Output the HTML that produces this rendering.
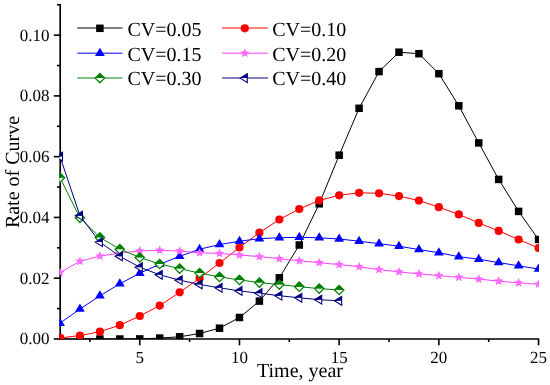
<!DOCTYPE html><html><head><meta charset="utf-8"><title>Rate of Curve</title>
<style>html,body{margin:0;padding:0;background:#fff;}svg{display:block;}text{text-rendering:geometricPrecision;font-family:"Liberation Serif","Times New Roman",serif;fill:#000;}</style></head><body>
<svg width="550" height="385" viewBox="0 0 550 385">
<rect width="550" height="385" fill="#fff"/>
<defs><clipPath id="pa"><rect x="59.4" y="0" width="479.6" height="339.2"/></clipPath></defs>
<path d="M60.2 3.9V339.8" stroke="#000" stroke-width="1.7" fill="none"/>
<path d="M59.1 339H539.2" stroke="#000" stroke-width="1.6" fill="none"/>
<path d="M53.8 338.95H60" stroke="#000" stroke-width="1.6"/>
<path d="M57 308.57H60" stroke="#000" stroke-width="1.6"/>
<path d="M53.8 278.19H60" stroke="#000" stroke-width="1.6"/>
<path d="M57 247.81H60" stroke="#000" stroke-width="1.6"/>
<path d="M53.8 217.43H60" stroke="#000" stroke-width="1.6"/>
<path d="M57 187.05H60" stroke="#000" stroke-width="1.6"/>
<path d="M53.8 156.67H60" stroke="#000" stroke-width="1.6"/>
<path d="M57 126.29H60" stroke="#000" stroke-width="1.6"/>
<path d="M53.8 95.91H60" stroke="#000" stroke-width="1.6"/>
<path d="M57 65.53H60" stroke="#000" stroke-width="1.6"/>
<path d="M53.8 35.15H60" stroke="#000" stroke-width="1.6"/>
<path d="M57 4.77H60" stroke="#000" stroke-width="1.6"/>
<path d="M89.91 339V342" stroke="#000" stroke-width="1.6"/>
<path d="M139.76 339V345.3" stroke="#000" stroke-width="1.6"/>
<path d="M189.61 339V342" stroke="#000" stroke-width="1.6"/>
<path d="M239.46 339V345.3" stroke="#000" stroke-width="1.6"/>
<path d="M289.31 339V342" stroke="#000" stroke-width="1.6"/>
<path d="M339.16 339V345.3" stroke="#000" stroke-width="1.6"/>
<path d="M389.01 339V342" stroke="#000" stroke-width="1.6"/>
<path d="M438.86 339V345.3" stroke="#000" stroke-width="1.6"/>
<path d="M488.71 339V342" stroke="#000" stroke-width="1.6"/>
<path d="M538.56 339V345.3" stroke="#000" stroke-width="1.6"/>
<text x="49.5" y="344.35" font-size="17" text-anchor="end">0.00</text>
<text x="49.5" y="283.59" font-size="17" text-anchor="end">0.02</text>
<text x="49.5" y="222.83" font-size="17" text-anchor="end">0.04</text>
<text x="49.5" y="162.07" font-size="17" text-anchor="end">0.06</text>
<text x="49.5" y="101.31" font-size="17" text-anchor="end">0.08</text>
<text x="49.5" y="40.55" font-size="17" text-anchor="end">0.10</text>
<text x="139.76" y="363" font-size="17" text-anchor="middle">5</text>
<text x="239.46" y="363" font-size="17" text-anchor="middle">10</text>
<text x="339.16" y="363" font-size="17" text-anchor="middle">15</text>
<text x="438.86" y="363" font-size="17" text-anchor="middle">20</text>
<text x="538.56" y="363" font-size="17" text-anchor="middle">25</text>
<text x="300" y="376.7" font-size="20" text-anchor="middle">Time, year</text>
<text transform="translate(19,172) rotate(-90)" font-size="20" text-anchor="middle">Rate of Curve</text>
<g clip-path="url(#pa)">
<polyline fill="none" stroke="#000" stroke-width="1" points="60,339 79.94,339 99.88,339 119.82,339 139.76,338.9 159.7,338.1 179.64,336.8 199.58,333.5 219.52,328.2 239.46,317.5 259.4,301.1 279.34,277.8 299.28,245 319.22,203.8 339.16,155.2 359.1,108.3 379.04,71.6 398.98,52.2 418.92,53.7 438.86,73.7 458.8,105.8 478.74,142.9 498.68,179.4 518.62,211.4 538.56,239.5"/>
<polyline fill="none" stroke="#ff0000" stroke-width="1" points="60,337.9 79.94,335.6 99.88,331.7 119.82,325.2 139.76,316 159.7,305.6 179.64,292.3 199.58,278.2 219.52,263 239.46,247.5 259.4,232.7 279.34,219.5 299.28,209 319.22,200.4 339.16,195.3 359.1,192.8 379.04,193.3 398.98,196.1 418.92,200.6 438.86,207.2 458.8,214.4 478.74,222.9 498.68,230.9 518.62,239.5 538.56,248"/>
<polyline fill="none" stroke="#0000ff" stroke-width="1" points="60,323.2 79.94,309.1 99.88,295.8 119.82,283.8 139.76,273.2 159.7,264.2 179.64,256.4 199.58,249.2 219.52,244.6 239.46,241.2 259.4,238.7 279.34,237.7 299.28,237.3 319.22,237.8 339.16,239 359.1,241.2 379.04,243.7 398.98,246.2 418.92,249.6 438.86,252.7 458.8,256.7 478.74,259.2 498.68,262.6 518.62,265.8 538.56,269"/>
<polyline fill="none" stroke="#ff3cff" stroke-width="1" points="60,272.5 79.94,261.3 99.88,256.1 119.82,253.1 139.76,250.9 159.7,250.3 179.64,251.1 199.58,252.8 219.52,253.4 239.46,255 259.4,256.6 279.34,258.8 299.28,260.8 319.22,262.7 339.16,264.6 359.1,266.8 379.04,269.6 398.98,271.9 418.92,273.9 438.86,275.6 458.8,277.3 478.74,279.1 498.68,281.1 518.62,282.9 538.56,284.2"/>
<polyline fill="none" stroke="#008000" stroke-width="1" points="60,177.7 79.94,217.8 99.88,237.4 119.82,249.2 139.76,257.5 159.7,264 179.64,268.6 199.58,273.1 219.52,276.9 239.46,279.9 259.4,282.6 279.34,284.6 299.28,286.7 319.22,288.6 339.16,290"/>
<polyline fill="none" stroke="#000080" stroke-width="1" points="60,156.6 79.94,215.7 99.88,242.1 119.82,256.3 139.76,267.2 159.7,274.8 179.64,280.2 199.58,284.4 219.52,287.8 239.46,290.9 259.4,293.2 279.34,295.7 299.28,297.8 319.22,299.7 339.16,300.8"/>
<rect x="56.25" y="335.25" width="7.5" height="7.5" fill="#000000"/>
<rect x="76.19" y="335.25" width="7.5" height="7.5" fill="#000000"/>
<rect x="96.13" y="335.25" width="7.5" height="7.5" fill="#000000"/>
<rect x="116.07" y="335.25" width="7.5" height="7.5" fill="#000000"/>
<rect x="136.01" y="335.15" width="7.5" height="7.5" fill="#000000"/>
<rect x="155.95" y="334.35" width="7.5" height="7.5" fill="#000000"/>
<rect x="175.89" y="333.05" width="7.5" height="7.5" fill="#000000"/>
<rect x="195.83" y="329.75" width="7.5" height="7.5" fill="#000000"/>
<rect x="215.77" y="324.45" width="7.5" height="7.5" fill="#000000"/>
<rect x="235.71" y="313.75" width="7.5" height="7.5" fill="#000000"/>
<rect x="255.65" y="297.35" width="7.5" height="7.5" fill="#000000"/>
<rect x="275.59" y="274.05" width="7.5" height="7.5" fill="#000000"/>
<rect x="295.53" y="241.25" width="7.5" height="7.5" fill="#000000"/>
<rect x="315.47" y="200.05" width="7.5" height="7.5" fill="#000000"/>
<rect x="335.41" y="151.45" width="7.5" height="7.5" fill="#000000"/>
<rect x="355.35" y="104.55" width="7.5" height="7.5" fill="#000000"/>
<rect x="375.29" y="67.85" width="7.5" height="7.5" fill="#000000"/>
<rect x="395.23" y="48.45" width="7.5" height="7.5" fill="#000000"/>
<rect x="415.17" y="49.95" width="7.5" height="7.5" fill="#000000"/>
<rect x="435.11" y="69.95" width="7.5" height="7.5" fill="#000000"/>
<rect x="455.05" y="102.05" width="7.5" height="7.5" fill="#000000"/>
<rect x="474.99" y="139.15" width="7.5" height="7.5" fill="#000000"/>
<rect x="494.93" y="175.65" width="7.5" height="7.5" fill="#000000"/>
<rect x="514.87" y="207.65" width="7.5" height="7.5" fill="#000000"/>
<rect x="534.81" y="235.75" width="7.5" height="7.5" fill="#000000"/>
<circle cx="60" cy="337.9" r="4.1" fill="#ff0000"/>
<circle cx="79.94" cy="335.6" r="4.1" fill="#ff0000"/>
<circle cx="99.88" cy="331.7" r="4.1" fill="#ff0000"/>
<circle cx="119.82" cy="325.2" r="4.1" fill="#ff0000"/>
<circle cx="139.76" cy="316" r="4.1" fill="#ff0000"/>
<circle cx="159.7" cy="305.6" r="4.1" fill="#ff0000"/>
<circle cx="179.64" cy="292.3" r="4.1" fill="#ff0000"/>
<circle cx="199.58" cy="278.2" r="4.1" fill="#ff0000"/>
<circle cx="219.52" cy="263" r="4.1" fill="#ff0000"/>
<circle cx="239.46" cy="247.5" r="4.1" fill="#ff0000"/>
<circle cx="259.4" cy="232.7" r="4.1" fill="#ff0000"/>
<circle cx="279.34" cy="219.5" r="4.1" fill="#ff0000"/>
<circle cx="299.28" cy="209" r="4.1" fill="#ff0000"/>
<circle cx="319.22" cy="200.4" r="4.1" fill="#ff0000"/>
<circle cx="339.16" cy="195.3" r="4.1" fill="#ff0000"/>
<circle cx="359.1" cy="192.8" r="4.1" fill="#ff0000"/>
<circle cx="379.04" cy="193.3" r="4.1" fill="#ff0000"/>
<circle cx="398.98" cy="196.1" r="4.1" fill="#ff0000"/>
<circle cx="418.92" cy="200.6" r="4.1" fill="#ff0000"/>
<circle cx="438.86" cy="207.2" r="4.1" fill="#ff0000"/>
<circle cx="458.8" cy="214.4" r="4.1" fill="#ff0000"/>
<circle cx="478.74" cy="222.9" r="4.1" fill="#ff0000"/>
<circle cx="498.68" cy="230.9" r="4.1" fill="#ff0000"/>
<circle cx="518.62" cy="239.5" r="4.1" fill="#ff0000"/>
<circle cx="538.56" cy="248" r="4.1" fill="#ff0000"/>
<path d="M60 317.7L64.9 325.9L55.1 325.9Z" fill="#0000ff"/>
<path d="M79.94 303.6L84.84 311.8L75.04 311.8Z" fill="#0000ff"/>
<path d="M99.88 290.3L104.78 298.5L94.98 298.5Z" fill="#0000ff"/>
<path d="M119.82 278.3L124.72 286.5L114.92 286.5Z" fill="#0000ff"/>
<path d="M139.76 267.7L144.66 275.9L134.86 275.9Z" fill="#0000ff"/>
<path d="M159.7 258.7L164.6 266.9L154.8 266.9Z" fill="#0000ff"/>
<path d="M179.64 250.9L184.54 259.1L174.74 259.1Z" fill="#0000ff"/>
<path d="M199.58 243.7L204.48 251.9L194.68 251.9Z" fill="#0000ff"/>
<path d="M219.52 239.1L224.42 247.3L214.62 247.3Z" fill="#0000ff"/>
<path d="M239.46 235.7L244.36 243.9L234.56 243.9Z" fill="#0000ff"/>
<path d="M259.4 233.2L264.3 241.4L254.5 241.4Z" fill="#0000ff"/>
<path d="M279.34 232.2L284.24 240.4L274.44 240.4Z" fill="#0000ff"/>
<path d="M299.28 231.8L304.18 240L294.38 240Z" fill="#0000ff"/>
<path d="M319.22 232.3L324.12 240.5L314.32 240.5Z" fill="#0000ff"/>
<path d="M339.16 233.5L344.06 241.7L334.26 241.7Z" fill="#0000ff"/>
<path d="M359.1 235.7L364 243.9L354.2 243.9Z" fill="#0000ff"/>
<path d="M379.04 238.2L383.94 246.4L374.14 246.4Z" fill="#0000ff"/>
<path d="M398.98 240.7L403.88 248.9L394.08 248.9Z" fill="#0000ff"/>
<path d="M418.92 244.1L423.82 252.3L414.02 252.3Z" fill="#0000ff"/>
<path d="M438.86 247.2L443.76 255.4L433.96 255.4Z" fill="#0000ff"/>
<path d="M458.8 251.2L463.7 259.4L453.9 259.4Z" fill="#0000ff"/>
<path d="M478.74 253.7L483.64 261.9L473.84 261.9Z" fill="#0000ff"/>
<path d="M498.68 257.1L503.58 265.3L493.78 265.3Z" fill="#0000ff"/>
<path d="M518.62 260.3L523.52 268.5L513.72 268.5Z" fill="#0000ff"/>
<path d="M538.56 263.5L543.46 271.7L533.66 271.7Z" fill="#0000ff"/>
<path d="M60 267.7L61.35 270.64L64.57 271.02L62.19 273.21L62.82 276.38L60 274.8L57.18 276.38L57.81 273.21L55.43 271.02L58.65 270.64Z" fill="#ff6aff"/>
<path d="M79.94 256.5L81.29 259.44L84.51 259.82L82.13 262.01L82.76 265.18L79.94 263.6L77.12 265.18L77.75 262.01L75.37 259.82L78.59 259.44Z" fill="#ff6aff"/>
<path d="M99.88 251.3L101.23 254.24L104.45 254.62L102.07 256.81L102.7 259.98L99.88 258.4L97.06 259.98L97.69 256.81L95.31 254.62L98.53 254.24Z" fill="#ff6aff"/>
<path d="M119.82 248.3L121.17 251.24L124.39 251.62L122.01 253.81L122.64 256.98L119.82 255.4L117 256.98L117.63 253.81L115.25 251.62L118.47 251.24Z" fill="#ff6aff"/>
<path d="M139.76 246.1L141.11 249.04L144.33 249.42L141.95 251.61L142.58 254.78L139.76 253.2L136.94 254.78L137.57 251.61L135.19 249.42L138.41 249.04Z" fill="#ff6aff"/>
<path d="M159.7 245.5L161.05 248.44L164.27 248.82L161.89 251.01L162.52 254.18L159.7 252.6L156.88 254.18L157.51 251.01L155.13 248.82L158.35 248.44Z" fill="#ff6aff"/>
<path d="M179.64 246.3L180.99 249.24L184.21 249.62L181.83 251.81L182.46 254.98L179.64 253.4L176.82 254.98L177.45 251.81L175.07 249.62L178.29 249.24Z" fill="#ff6aff"/>
<path d="M199.58 248L200.93 250.94L204.15 251.32L201.77 253.51L202.4 256.68L199.58 255.1L196.76 256.68L197.39 253.51L195.01 251.32L198.23 250.94Z" fill="#ff6aff"/>
<path d="M219.52 248.6L220.87 251.54L224.09 251.92L221.71 254.11L222.34 257.28L219.52 255.7L216.7 257.28L217.33 254.11L214.95 251.92L218.17 251.54Z" fill="#ff6aff"/>
<path d="M239.46 250.2L240.81 253.14L244.03 253.52L241.65 255.71L242.28 258.88L239.46 257.3L236.64 258.88L237.27 255.71L234.89 253.52L238.11 253.14Z" fill="#ff6aff"/>
<path d="M259.4 251.8L260.75 254.74L263.97 255.12L261.59 257.31L262.22 260.48L259.4 258.9L256.58 260.48L257.21 257.31L254.83 255.12L258.05 254.74Z" fill="#ff6aff"/>
<path d="M279.34 254L280.69 256.94L283.91 257.32L281.53 259.51L282.16 262.68L279.34 261.1L276.52 262.68L277.15 259.51L274.77 257.32L277.99 256.94Z" fill="#ff6aff"/>
<path d="M299.28 256L300.63 258.94L303.85 259.32L301.47 261.51L302.1 264.68L299.28 263.1L296.46 264.68L297.09 261.51L294.71 259.32L297.93 258.94Z" fill="#ff6aff"/>
<path d="M319.22 257.9L320.57 260.84L323.79 261.22L321.41 263.41L322.04 266.58L319.22 265L316.4 266.58L317.03 263.41L314.65 261.22L317.87 260.84Z" fill="#ff6aff"/>
<path d="M339.16 259.8L340.51 262.74L343.73 263.12L341.35 265.31L341.98 268.48L339.16 266.9L336.34 268.48L336.97 265.31L334.59 263.12L337.81 262.74Z" fill="#ff6aff"/>
<path d="M359.1 262L360.45 264.94L363.67 265.32L361.29 267.51L361.92 270.68L359.1 269.1L356.28 270.68L356.91 267.51L354.53 265.32L357.75 264.94Z" fill="#ff6aff"/>
<path d="M379.04 264.8L380.39 267.74L383.61 268.12L381.23 270.31L381.86 273.48L379.04 271.9L376.22 273.48L376.85 270.31L374.47 268.12L377.69 267.74Z" fill="#ff6aff"/>
<path d="M398.98 267.1L400.33 270.04L403.55 270.42L401.17 272.61L401.8 275.78L398.98 274.2L396.16 275.78L396.79 272.61L394.41 270.42L397.63 270.04Z" fill="#ff6aff"/>
<path d="M418.92 269.1L420.27 272.04L423.49 272.42L421.11 274.61L421.74 277.78L418.92 276.2L416.1 277.78L416.73 274.61L414.35 272.42L417.57 272.04Z" fill="#ff6aff"/>
<path d="M438.86 270.8L440.21 273.74L443.43 274.12L441.05 276.31L441.68 279.48L438.86 277.9L436.04 279.48L436.67 276.31L434.29 274.12L437.51 273.74Z" fill="#ff6aff"/>
<path d="M458.8 272.5L460.15 275.44L463.37 275.82L460.99 278.01L461.62 281.18L458.8 279.6L455.98 281.18L456.61 278.01L454.23 275.82L457.45 275.44Z" fill="#ff6aff"/>
<path d="M478.74 274.3L480.09 277.24L483.31 277.62L480.93 279.81L481.56 282.98L478.74 281.4L475.92 282.98L476.55 279.81L474.17 277.62L477.39 277.24Z" fill="#ff6aff"/>
<path d="M498.68 276.3L500.03 279.24L503.25 279.62L500.87 281.81L501.5 284.98L498.68 283.4L495.86 284.98L496.49 281.81L494.11 279.62L497.33 279.24Z" fill="#ff6aff"/>
<path d="M518.62 278.1L519.97 281.04L523.19 281.42L520.81 283.61L521.44 286.78L518.62 285.2L515.8 286.78L516.43 283.61L514.05 281.42L517.27 281.04Z" fill="#ff6aff"/>
<path d="M538.56 279.4L539.91 282.34L543.13 282.72L540.75 284.91L541.38 288.08L538.56 286.5L535.74 288.08L536.37 284.91L533.99 282.72L537.21 282.34Z" fill="#ff6aff"/>
<path d="M55.3 177.7L60 182.4L64.7 177.7Z" fill="#fff"/><path d="M55.3 177.7L60 173L64.7 177.7Z" fill="#008000"/><path d="M55.3 177.7L60 173L64.7 177.7L60 182.4Z" fill="none" stroke="#008000" stroke-width="1.3"/>
<path d="M75.24 217.8L79.94 222.5L84.64 217.8Z" fill="#fff"/><path d="M75.24 217.8L79.94 213.1L84.64 217.8Z" fill="#008000"/><path d="M75.24 217.8L79.94 213.1L84.64 217.8L79.94 222.5Z" fill="none" stroke="#008000" stroke-width="1.3"/>
<path d="M95.18 237.4L99.88 242.1L104.58 237.4Z" fill="#fff"/><path d="M95.18 237.4L99.88 232.7L104.58 237.4Z" fill="#008000"/><path d="M95.18 237.4L99.88 232.7L104.58 237.4L99.88 242.1Z" fill="none" stroke="#008000" stroke-width="1.3"/>
<path d="M115.12 249.2L119.82 253.9L124.52 249.2Z" fill="#fff"/><path d="M115.12 249.2L119.82 244.5L124.52 249.2Z" fill="#008000"/><path d="M115.12 249.2L119.82 244.5L124.52 249.2L119.82 253.9Z" fill="none" stroke="#008000" stroke-width="1.3"/>
<path d="M135.06 257.5L139.76 262.2L144.46 257.5Z" fill="#fff"/><path d="M135.06 257.5L139.76 252.8L144.46 257.5Z" fill="#008000"/><path d="M135.06 257.5L139.76 252.8L144.46 257.5L139.76 262.2Z" fill="none" stroke="#008000" stroke-width="1.3"/>
<path d="M155 264L159.7 268.7L164.4 264Z" fill="#fff"/><path d="M155 264L159.7 259.3L164.4 264Z" fill="#008000"/><path d="M155 264L159.7 259.3L164.4 264L159.7 268.7Z" fill="none" stroke="#008000" stroke-width="1.3"/>
<path d="M174.94 268.6L179.64 273.3L184.34 268.6Z" fill="#fff"/><path d="M174.94 268.6L179.64 263.9L184.34 268.6Z" fill="#008000"/><path d="M174.94 268.6L179.64 263.9L184.34 268.6L179.64 273.3Z" fill="none" stroke="#008000" stroke-width="1.3"/>
<path d="M194.88 273.1L199.58 277.8L204.28 273.1Z" fill="#fff"/><path d="M194.88 273.1L199.58 268.4L204.28 273.1Z" fill="#008000"/><path d="M194.88 273.1L199.58 268.4L204.28 273.1L199.58 277.8Z" fill="none" stroke="#008000" stroke-width="1.3"/>
<path d="M214.82 276.9L219.52 281.6L224.22 276.9Z" fill="#fff"/><path d="M214.82 276.9L219.52 272.2L224.22 276.9Z" fill="#008000"/><path d="M214.82 276.9L219.52 272.2L224.22 276.9L219.52 281.6Z" fill="none" stroke="#008000" stroke-width="1.3"/>
<path d="M234.76 279.9L239.46 284.6L244.16 279.9Z" fill="#fff"/><path d="M234.76 279.9L239.46 275.2L244.16 279.9Z" fill="#008000"/><path d="M234.76 279.9L239.46 275.2L244.16 279.9L239.46 284.6Z" fill="none" stroke="#008000" stroke-width="1.3"/>
<path d="M254.7 282.6L259.4 287.3L264.1 282.6Z" fill="#fff"/><path d="M254.7 282.6L259.4 277.9L264.1 282.6Z" fill="#008000"/><path d="M254.7 282.6L259.4 277.9L264.1 282.6L259.4 287.3Z" fill="none" stroke="#008000" stroke-width="1.3"/>
<path d="M274.64 284.6L279.34 289.3L284.04 284.6Z" fill="#fff"/><path d="M274.64 284.6L279.34 279.9L284.04 284.6Z" fill="#008000"/><path d="M274.64 284.6L279.34 279.9L284.04 284.6L279.34 289.3Z" fill="none" stroke="#008000" stroke-width="1.3"/>
<path d="M294.58 286.7L299.28 291.4L303.98 286.7Z" fill="#fff"/><path d="M294.58 286.7L299.28 282L303.98 286.7Z" fill="#008000"/><path d="M294.58 286.7L299.28 282L303.98 286.7L299.28 291.4Z" fill="none" stroke="#008000" stroke-width="1.3"/>
<path d="M314.52 288.6L319.22 293.3L323.92 288.6Z" fill="#fff"/><path d="M314.52 288.6L319.22 283.9L323.92 288.6Z" fill="#008000"/><path d="M314.52 288.6L319.22 283.9L323.92 288.6L319.22 293.3Z" fill="none" stroke="#008000" stroke-width="1.3"/>
<path d="M334.46 290L339.16 294.7L343.86 290Z" fill="#fff"/><path d="M334.46 290L339.16 285.3L343.86 290Z" fill="#008000"/><path d="M334.46 290L339.16 285.3L343.86 290L339.16 294.7Z" fill="none" stroke="#008000" stroke-width="1.3"/>
<path d="M55.3 156.6L62.5 161L62.5 156.6Z" fill="#fff"/><path d="M55.3 156.6L62.5 152.2L62.5 156.6Z" fill="#000080"/><path d="M55.3 156.6L62.5 152.2L62.5 161Z" fill="none" stroke="#000080" stroke-width="1.1" stroke-linejoin="miter"/>
<path d="M75.24 215.7L82.44 220.1L82.44 215.7Z" fill="#fff"/><path d="M75.24 215.7L82.44 211.3L82.44 215.7Z" fill="#000080"/><path d="M75.24 215.7L82.44 211.3L82.44 220.1Z" fill="none" stroke="#000080" stroke-width="1.1" stroke-linejoin="miter"/>
<path d="M95.18 242.1L102.38 246.5L102.38 242.1Z" fill="#fff"/><path d="M95.18 242.1L102.38 237.7L102.38 242.1Z" fill="#000080"/><path d="M95.18 242.1L102.38 237.7L102.38 246.5Z" fill="none" stroke="#000080" stroke-width="1.1" stroke-linejoin="miter"/>
<path d="M115.12 256.3L122.32 260.7L122.32 256.3Z" fill="#fff"/><path d="M115.12 256.3L122.32 251.9L122.32 256.3Z" fill="#000080"/><path d="M115.12 256.3L122.32 251.9L122.32 260.7Z" fill="none" stroke="#000080" stroke-width="1.1" stroke-linejoin="miter"/>
<path d="M135.06 267.2L142.26 271.6L142.26 267.2Z" fill="#fff"/><path d="M135.06 267.2L142.26 262.8L142.26 267.2Z" fill="#000080"/><path d="M135.06 267.2L142.26 262.8L142.26 271.6Z" fill="none" stroke="#000080" stroke-width="1.1" stroke-linejoin="miter"/>
<path d="M155 274.8L162.2 279.2L162.2 274.8Z" fill="#fff"/><path d="M155 274.8L162.2 270.4L162.2 274.8Z" fill="#000080"/><path d="M155 274.8L162.2 270.4L162.2 279.2Z" fill="none" stroke="#000080" stroke-width="1.1" stroke-linejoin="miter"/>
<path d="M174.94 280.2L182.14 284.6L182.14 280.2Z" fill="#fff"/><path d="M174.94 280.2L182.14 275.8L182.14 280.2Z" fill="#000080"/><path d="M174.94 280.2L182.14 275.8L182.14 284.6Z" fill="none" stroke="#000080" stroke-width="1.1" stroke-linejoin="miter"/>
<path d="M194.88 284.4L202.08 288.8L202.08 284.4Z" fill="#fff"/><path d="M194.88 284.4L202.08 280L202.08 284.4Z" fill="#000080"/><path d="M194.88 284.4L202.08 280L202.08 288.8Z" fill="none" stroke="#000080" stroke-width="1.1" stroke-linejoin="miter"/>
<path d="M214.82 287.8L222.02 292.2L222.02 287.8Z" fill="#fff"/><path d="M214.82 287.8L222.02 283.4L222.02 287.8Z" fill="#000080"/><path d="M214.82 287.8L222.02 283.4L222.02 292.2Z" fill="none" stroke="#000080" stroke-width="1.1" stroke-linejoin="miter"/>
<path d="M234.76 290.9L241.96 295.3L241.96 290.9Z" fill="#fff"/><path d="M234.76 290.9L241.96 286.5L241.96 290.9Z" fill="#000080"/><path d="M234.76 290.9L241.96 286.5L241.96 295.3Z" fill="none" stroke="#000080" stroke-width="1.1" stroke-linejoin="miter"/>
<path d="M254.7 293.2L261.9 297.6L261.9 293.2Z" fill="#fff"/><path d="M254.7 293.2L261.9 288.8L261.9 293.2Z" fill="#000080"/><path d="M254.7 293.2L261.9 288.8L261.9 297.6Z" fill="none" stroke="#000080" stroke-width="1.1" stroke-linejoin="miter"/>
<path d="M274.64 295.7L281.84 300.1L281.84 295.7Z" fill="#fff"/><path d="M274.64 295.7L281.84 291.3L281.84 295.7Z" fill="#000080"/><path d="M274.64 295.7L281.84 291.3L281.84 300.1Z" fill="none" stroke="#000080" stroke-width="1.1" stroke-linejoin="miter"/>
<path d="M294.58 297.8L301.78 302.2L301.78 297.8Z" fill="#fff"/><path d="M294.58 297.8L301.78 293.4L301.78 297.8Z" fill="#000080"/><path d="M294.58 297.8L301.78 293.4L301.78 302.2Z" fill="none" stroke="#000080" stroke-width="1.1" stroke-linejoin="miter"/>
<path d="M314.52 299.7L321.72 304.1L321.72 299.7Z" fill="#fff"/><path d="M314.52 299.7L321.72 295.3L321.72 299.7Z" fill="#000080"/><path d="M314.52 299.7L321.72 295.3L321.72 304.1Z" fill="none" stroke="#000080" stroke-width="1.1" stroke-linejoin="miter"/>
<path d="M334.46 300.8L341.66 305.2L341.66 300.8Z" fill="#fff"/><path d="M334.46 300.8L341.66 296.4L341.66 300.8Z" fill="#000080"/><path d="M334.46 300.8L341.66 296.4L341.66 305.2Z" fill="none" stroke="#000080" stroke-width="1.1" stroke-linejoin="miter"/>
</g>
<path d="M77.3 28H122.5" stroke="#000" stroke-width="1"/>
<rect x="96.15" y="24.55" width="7.5" height="7.5" fill="#000000"/>
<text x="127.5" y="35.6" font-size="20">CV=0.05</text>
<path d="M222.1 28H267.9" stroke="#ff0000" stroke-width="1"/>
<circle cx="244.8" cy="28.3" r="4.1" fill="#ff0000"/>
<text x="272.2" y="35.6" font-size="20">CV=0.10</text>
<path d="M77.3 53.2H122.5" stroke="#0000ff" stroke-width="1"/>
<path d="M99.9 47.7L104.8 55.9L95 55.9Z" fill="#0000ff"/>
<text x="127.5" y="60.5" font-size="20">CV=0.15</text>
<path d="M222.1 53.2H267.9" stroke="#ff3cff" stroke-width="1"/>
<path d="M244.8 48.4L246.15 51.34L249.37 51.72L246.99 53.91L247.62 57.08L244.8 55.5L241.98 57.08L242.61 53.91L240.23 51.72L243.45 51.34Z" fill="#ff6aff"/>
<text x="272.2" y="60.5" font-size="20">CV=0.20</text>
<path d="M77.3 78H122.5" stroke="#008000" stroke-width="1"/>
<path d="M95.2 78.1L99.9 82.8L104.6 78.1Z" fill="#fff"/><path d="M95.2 78.1L99.9 73.4L104.6 78.1Z" fill="#008000"/><path d="M95.2 78.1L99.9 73.4L104.6 78.1L99.9 82.8Z" fill="none" stroke="#008000" stroke-width="1.3"/>
<text x="127.5" y="85.4" font-size="20">CV=0.30</text>
<path d="M222.1 78H267.9" stroke="#000080" stroke-width="1"/>
<path d="M240.1 78.1L247.3 82.5L247.3 78.1Z" fill="#fff"/><path d="M240.1 78.1L247.3 73.7L247.3 78.1Z" fill="#000080"/><path d="M240.1 78.1L247.3 73.7L247.3 82.5Z" fill="none" stroke="#000080" stroke-width="1.1" stroke-linejoin="miter"/>
<text x="272.2" y="85.4" font-size="20">CV=0.40</text>
</svg></body></html>
